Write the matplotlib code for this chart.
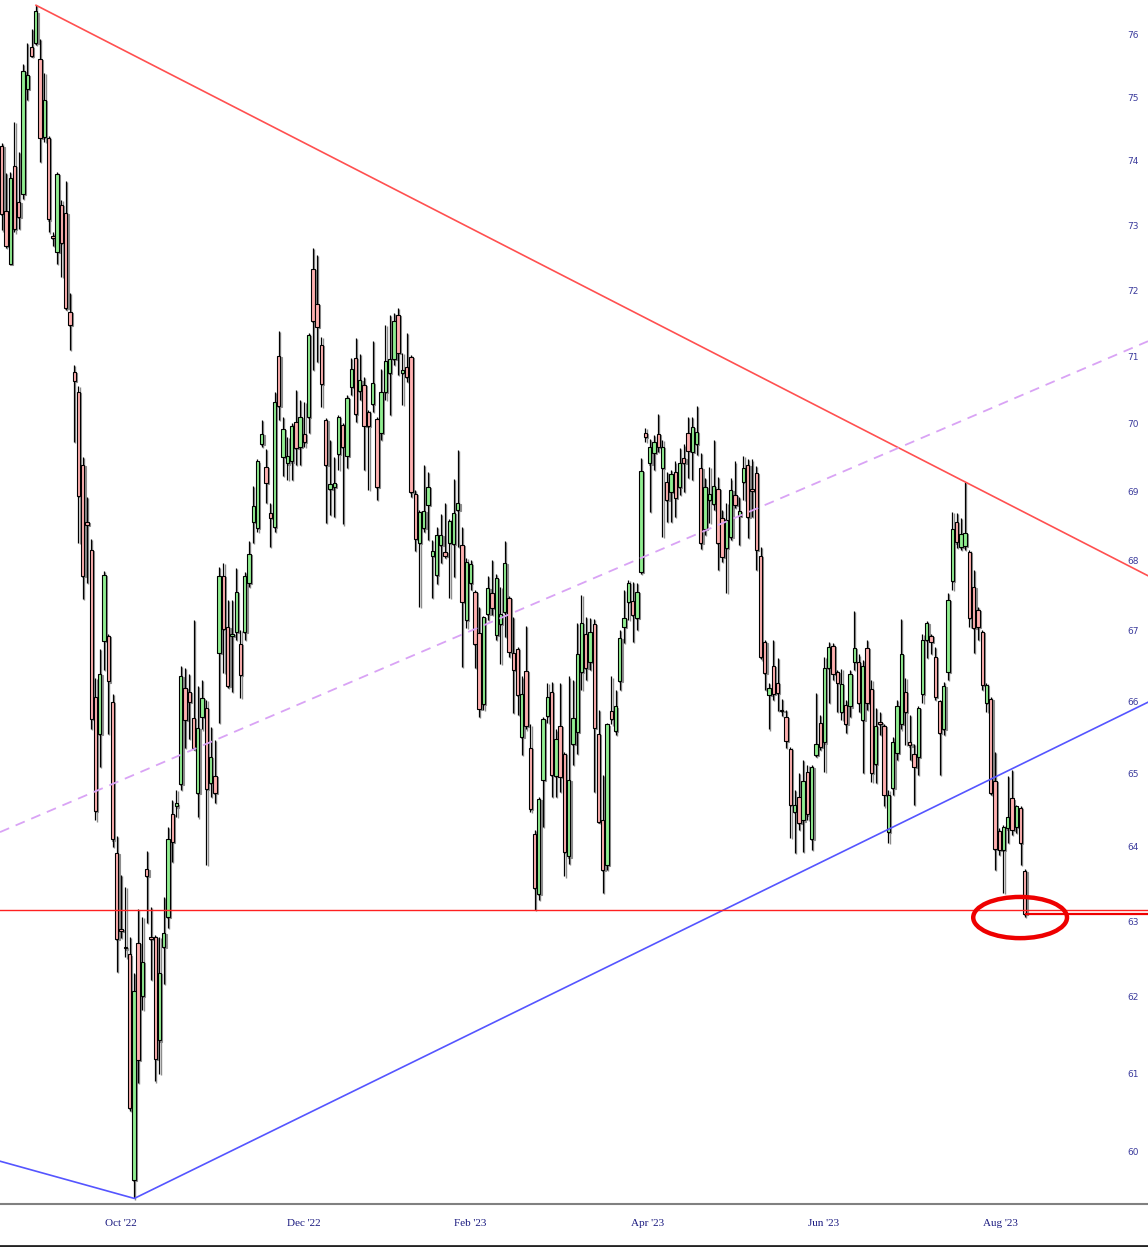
import numpy as np
import matplotlib.pyplot as plt
from matplotlib.patches import Ellipse
from matplotlib.lines import Line2D
from matplotlib.ticker import FixedLocator, NullLocator, FixedFormatter
from matplotlib.transforms import offset_copy

# daily candles (one per trading day)
opens = [74.24, 73.22, 72.40, 73.92, 73.36, 73.48, 75.14, 75.81, 75.87, 75.62,
         74.38, 74.36, 72.83, 72.59, 73.31, 73.19, 71.67, 70.77, 70.47, 69.39,
         68.56, 68.15, 66.06, 65.55, 66.85, 66.92, 65.99, 63.92, 62.90, 62.66,
         62.56, 59.64, 62.71, 62.01, 63.70, 62.79, 62.79, 61.43, 62.66, 63.06,
         64.45, 64.55, 64.86, 66.19, 66.13, 65.77, 64.74, 65.79, 65.91, 64.87,
         64.97, 66.68, 67.78, 67.05, 66.92, 66.98, 66.81, 66.98, 67.68, 68.56,
         68.47, 69.70, 69.36, 68.69, 68.49, 71.01, 69.51, 69.41, 69.44, 70.02,
         69.66, 69.85, 70.10, 72.33, 71.80, 71.17, 70.05, 69.04, 69.07, 69.55,
         69.98, 69.52, 70.55, 70.98, 70.49, 70.58, 70.17, 70.29, 70.07, 69.86,
         70.47, 70.75, 70.96, 71.63, 70.75, 70.84, 70.99, 68.97, 68.25, 68.47,
         68.81, 68.07, 67.79, 68.22, 68.12, 68.25, 68.24, 68.73, 68.22, 67.15,
         67.68, 67.55, 66.96, 65.97, 67.24, 67.54, 66.94, 67.09, 67.26, 67.46,
         66.68, 66.74, 65.51, 66.43, 65.36, 64.18, 63.37, 64.91, 65.80, 66.13,
         64.97, 65.66, 65.27, 63.87, 65.41, 65.58, 66.42, 66.95, 66.56, 67.09,
         65.55, 64.37, 63.76, 65.87, 65.59, 66.29, 67.05, 67.41, 67.42, 67.18,
         67.84, 69.86, 69.41, 69.57, 69.85, 69.35, 69.14, 68.99, 69.29, 69.07,
         69.49, 69.86, 69.58, 69.70, 69.35, 68.46, 68.88, 68.82, 69.04, 68.62,
         68.18, 68.34, 68.95, 68.65, 69.14, 69.39, 69.04, 69.27, 68.06, 66.84,
         66.09, 66.50, 66.26, 65.87, 65.79, 65.34, 64.48, 64.68, 64.36, 65.02,
         64.11, 65.26, 65.70, 65.43, 66.47, 66.78, 66.42, 65.86, 65.95, 65.93,
         66.56, 66.56, 65.74, 66.75, 66.18, 65.13, 65.72, 65.66, 64.20, 64.80,
         65.29, 65.69, 66.13, 65.43, 65.27, 65.23, 66.11, 66.87, 66.92, 66.63,
         66.01, 65.62, 66.42, 67.71, 68.56, 68.19, 68.21, 68.12, 67.62, 67.29,
         66.98, 65.98, 66.04, 64.90, 64.22, 63.96, 64.25, 64.66, 64.27, 64.53,
         63.68]
highs = [74.28, 73.81, 73.83, 74.62, 74.14, 75.54, 75.87, 76.10, 76.48, 75.94,
         75.39, 74.39, 72.89, 73.83, 73.39, 73.69, 71.96, 70.87, 70.56, 69.51,
         68.92, 68.31, 66.33, 66.74, 67.85, 66.95, 66.11, 64.15, 63.62, 63.46,
         62.79, 62.32, 63.16, 63.06, 63.95, 63.19, 62.82, 62.79, 63.33, 64.27,
         64.64, 64.78, 66.50, 66.47, 66.39, 67.15, 66.22, 66.30, 66.02, 65.65,
         65.47, 67.91, 67.96, 67.44, 67.44, 67.89, 67.01, 67.84, 68.28, 69.08,
         69.47, 70.05, 69.63, 68.83, 70.47, 71.39, 70.10, 69.80, 70.01, 70.50,
         70.35, 70.32, 71.36, 72.65, 72.54, 71.30, 70.08, 69.76, 69.51, 70.13,
         70.01, 70.43, 70.98, 71.28, 71.04, 70.69, 70.20, 71.23, 70.10, 70.81,
         71.48, 71.63, 71.66, 71.73, 71.05, 71.36, 71.02, 69.02, 68.73, 69.39,
         69.29, 68.30, 68.49, 68.67, 68.83, 68.60, 69.18, 69.61, 68.49, 68.04,
         68.01, 67.58, 67.34, 67.20, 67.78, 68.01, 67.81, 67.62, 68.28, 67.49,
         67.19, 66.77, 66.35, 67.06, 65.68, 64.23, 64.68, 65.79, 66.26, 66.27,
         65.61, 66.26, 65.30, 66.35, 66.30, 67.11, 67.51, 67.19, 67.18, 67.16,
         65.88, 64.98, 65.70, 66.35, 66.16, 67.01, 67.58, 67.72, 67.69, 67.68,
         69.49, 69.94, 69.77, 69.83, 70.14, 69.76, 69.29, 69.32, 69.44, 69.64,
         69.69, 70.10, 70.10, 70.26, 69.57, 69.20, 69.36, 69.76, 69.21, 68.73,
         68.83, 69.19, 69.44, 68.92, 69.52, 69.48, 69.47, 69.38, 68.20, 66.87,
         66.26, 66.87, 66.61, 66.04, 65.88, 65.37, 64.78, 65.01, 65.19, 65.12,
         65.12, 66.12, 65.81, 66.63, 66.84, 66.82, 66.44, 66.46, 66.02, 66.44,
         67.28, 66.66, 66.58, 66.87, 66.30, 65.91, 65.86, 65.69, 64.78, 65.51,
         66.02, 67.16, 66.33, 65.81, 65.41, 65.93, 66.95, 67.14, 66.95, 66.77,
         66.02, 66.27, 67.54, 68.70, 68.69, 68.62, 69.14, 68.15, 67.86, 67.34,
         67.01, 66.26, 66.06, 65.30, 64.25, 64.30, 64.97, 65.05, 64.57, 64.56,
         63.70]
lows = [72.92, 72.65, 72.40, 72.89, 72.94, 73.41, 74.96, 75.65, 75.84, 73.98,
        74.30, 72.89, 72.68, 72.40, 72.21, 71.70, 71.10, 69.73, 68.25, 67.45,
        67.68, 65.62, 64.36, 65.09, 66.44, 65.55, 64.00, 62.33, 62.78, 62.52,
        60.52, 59.41, 60.88, 61.83, 62.98, 62.22, 60.90, 61.00, 62.17, 62.91,
        63.80, 64.41, 64.78, 65.36, 65.48, 65.33, 64.40, 65.61, 63.76, 64.68,
        64.60, 65.70, 66.40, 66.19, 66.13, 66.87, 66.05, 66.87, 67.62, 68.25,
        68.41, 69.66, 68.83, 68.20, 68.41, 70.05, 69.23, 69.17, 69.17, 69.39,
        69.39, 69.66, 69.86, 70.80, 70.92, 70.25, 68.54, 68.66, 68.63, 69.32,
        68.52, 69.35, 70.43, 70.02, 70.35, 69.32, 69.02, 70.17, 68.88, 69.76,
        70.35, 70.13, 70.87, 70.72, 70.28, 70.62, 68.92, 68.14, 67.34, 68.41,
        68.30, 67.46, 67.66, 67.96, 68.04, 67.46, 67.76, 68.20, 66.49, 67.04,
        67.58, 66.47, 65.79, 65.88, 67.15, 67.22, 66.87, 66.53, 66.91, 66.63,
        65.84, 65.81, 65.26, 65.61, 64.48, 63.15, 63.29, 64.27, 65.70, 64.68,
        64.68, 64.75, 63.60, 63.77, 65.12, 65.27, 66.16, 66.30, 66.44, 64.75,
        64.33, 63.38, 63.69, 65.68, 65.54, 66.16, 66.82, 67.15, 66.84, 67.01,
        67.81, 69.73, 68.70, 69.32, 69.58, 68.34, 68.56, 68.56, 68.63, 68.95,
        68.99, 69.20, 69.17, 69.54, 68.17, 68.37, 68.54, 68.73, 67.86, 67.98,
        67.54, 68.30, 68.76, 68.22, 68.88, 68.33, 68.63, 67.86, 66.59, 66.16,
        65.61, 66.02, 65.87, 65.80, 65.36, 64.12, 63.92, 64.23, 63.93, 64.37,
        63.96, 65.23, 65.33, 65.02, 65.98, 66.30, 65.86, 65.74, 65.56, 65.79,
        66.44, 65.86, 65.01, 65.88, 64.89, 64.87, 65.54, 64.55, 64.05, 64.71,
        65.19, 65.61, 65.40, 65.19, 64.57, 64.98, 65.98, 66.61, 66.67, 66.02,
        64.98, 65.54, 66.30, 67.58, 68.18, 68.15, 68.15, 67.05, 66.68, 66.87,
        66.16, 65.86, 64.71, 63.69, 63.89, 63.38, 64.05, 64.16, 64.19, 63.76,
        63.06]
closes = [73.17, 72.68, 73.73, 72.94, 73.13, 75.42, 75.36, 75.66, 76.38, 74.36,
          74.96, 73.09, 72.81, 73.80, 72.73, 71.73, 71.48, 70.63, 68.94, 67.78,
          68.51, 65.76, 64.49, 66.39, 67.79, 66.28, 64.10, 62.77, 62.87, 62.64,
          60.56, 62.08, 61.18, 62.46, 63.61, 62.77, 61.19, 62.32, 62.85, 64.11,
          64.07, 64.59, 66.36, 65.74, 65.99, 65.36, 65.63, 66.05, 64.79, 65.23,
          64.74, 67.78, 67.02, 66.22, 66.95, 67.55, 66.37, 67.78, 68.09, 68.79,
          69.44, 69.85, 69.13, 68.62, 70.32, 70.26, 69.92, 69.52, 69.96, 69.64,
          70.10, 69.73, 71.33, 71.54, 71.45, 70.59, 69.39, 69.11, 69.13, 70.10,
          69.66, 70.38, 70.81, 70.14, 70.65, 69.96, 69.96, 70.61, 69.07, 70.47,
          70.93, 70.96, 71.54, 71.05, 70.80, 70.69, 68.99, 68.31, 68.70, 68.72,
          69.07, 68.14, 68.37, 68.37, 68.06, 68.57, 68.69, 68.83, 67.41, 67.98,
          67.95, 66.81, 65.90, 67.19, 67.61, 67.32, 67.75, 67.24, 67.96, 66.70,
          66.44, 66.09, 66.11, 65.66, 64.52, 63.45, 64.65, 65.76, 66.06, 64.98,
          65.48, 64.95, 63.93, 64.91, 65.77, 66.67, 67.11, 66.47, 66.98, 65.63,
          64.34, 63.69, 65.68, 65.76, 65.93, 66.89, 67.18, 67.68, 67.22, 67.55,
          69.30, 69.80, 69.66, 69.73, 69.66, 69.66, 68.88, 69.26, 68.91, 69.42,
          69.42, 69.60, 69.95, 69.88, 68.25, 69.07, 68.97, 69.08, 68.25, 68.05,
          68.59, 69.02, 68.81, 68.72, 69.35, 68.63, 69.01, 68.15, 66.63, 66.40,
          66.19, 66.11, 66.12, 65.88, 65.45, 64.57, 64.57, 64.33, 64.90, 64.44,
          65.09, 65.41, 65.37, 66.47, 66.77, 66.39, 66.26, 66.25, 65.69, 66.39,
          66.75, 65.98, 66.50, 65.98, 65.01, 65.66, 65.69, 64.71, 64.71, 65.43,
          65.93, 66.67, 65.86, 65.39, 65.09, 65.91, 66.87, 67.11, 66.84, 66.06,
          65.56, 66.22, 67.44, 68.46, 68.26, 68.38, 68.40, 67.18, 67.04, 67.05,
          66.23, 66.23, 64.74, 63.97, 63.96, 64.27, 64.41, 64.23, 64.55, 64.05,
          63.10]

month_pos = [28.0, 70.9, 109.9, 151.4, 192.7, 234.4]
month_labels = ["Oct '22", "Dec '22", "Feb '23", "Apr '23", "Jun '23", "Aug '23"]
price_ticks = list(range(60, 77))

# drawn trend lines, as (bar index, price) anchors
top_line_x = [8.05, 268.9]
top_line_y = [76.48, 67.78]
low_line_x = [-0.4, 31.1, 268.9]
low_line_y = [59.88, 59.41, 65.99]
mid_line_x = [-0.4, 268.9]
mid_line_y = [64.20, 71.23]
support_level = 63.15

o = np.array(opens)
h = np.array(highs)
l = np.array(lows)
c = np.array(closes)
x = np.arange(len(o))
up = c >= o

fig = plt.figure(figsize=(11.48, 12.47), dpi=100)
ax = fig.add_axes([0, 43 / 1247, 1, 1204 / 1247])
ax.set_yscale('log')

shadow = offset_copy(ax.transData, fig=fig, x=1.2, y=-1.2, units='dots')
bottom = np.minimum(o, c)
height = np.maximum(np.abs(c - o), 0.015)

# grey drop shadow under each candle
ax.vlines(x, l, h, colors='#8c8c8c', lw=1.0, transform=shadow, zorder=1)
ax.bar(x, height, bottom=bottom, width=0.78, color='#8c8c8c', edgecolor='#8c8c8c',
       linewidth=0.8, transform=shadow, zorder=1)

ax.vlines(x, l, h, colors='black', lw=0.9, zorder=2)
colors = np.where(up, '#90ee90', '#ffb0b0')
ax.bar(x, height, bottom=bottom, width=0.78, color=colors, edgecolor='black',
       linewidth=0.8, zorder=3)

ax.plot(top_line_x, top_line_y, color='#ff5050', lw=1.2, zorder=4)
ax.plot(low_line_x, low_line_y, color='#5555ff', lw=1.2, zorder=4)
ax.plot(mid_line_x, mid_line_y, color='#d9a3f5', lw=1.3, dashes=(5.5, 3.9), zorder=4)
ax.axhline(support_level, color='#ff2020', lw=1.0, zorder=4)
ax.hlines(c[-1], x[-1], 268.9, color='#ee0000', lw=1.6, zorder=4)
ax.add_patch(Ellipse((238.9, 63.05), width=22, height=0.55, fill=False,
                     edgecolor='#ee0000', lw=3.2, zorder=5))

ax.set_xlim(-0.4, 268.9)
ax.set_ylim(59.34, 76.565)

ax.xaxis.set_major_locator(FixedLocator(month_pos))
ax.xaxis.set_major_formatter(FixedFormatter(month_labels))
ax.yaxis.set_major_locator(FixedLocator(price_ticks))
ax.yaxis.set_major_formatter(FixedFormatter([str(t) for t in price_ticks]))
ax.yaxis.set_minor_locator(NullLocator())
ax.xaxis.set_minor_locator(NullLocator())
ax.yaxis.tick_right()
ax.tick_params(axis='y', length=0, pad=-15, labelsize=6.5, labelcolor='#3b3b9c')
ax.tick_params(axis='x', length=0, pad=11, labelsize=8, labelcolor='#1a1a80')
for lab in ax.get_xticklabels():
    lab.set_family('Liberation Serif')

for s in ['top', 'left', 'right']:
    ax.spines[s].set_visible(False)
ax.spines['bottom'].set_color('#808080')
ax.spines['bottom'].set_linewidth(1.5)

fig.add_artist(Line2D([0, 1], [1.2 / 1247, 1.2 / 1247], transform=fig.transFigure,
                      color='#222222', lw=2))

fig.savefig('out.png', dpi=100)
